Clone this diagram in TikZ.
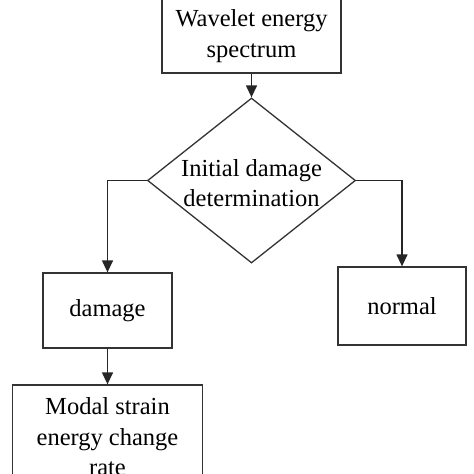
\documentclass[tikz,border=0pt]{standalone}
\usepackage{fontspec}
\setmainfont{Liberation Serif}
\usetikzlibrary{shapes.geometric,arrows.meta}
\begin{document}
\begin{tikzpicture}[x=1pt,y=-1pt,
  box/.style={draw=black!80, line width=1.3pt, rectangle, inner sep=0pt},
  txt/.style={align=center, font=\fontsize{24.5}{30.5}\selectfont, inner sep=0pt},
  conn/.style={draw=black!85, line width=1.3pt, -{Triangle[length=12pt,width=11pt]}}]
\useasboundingbox (0,0) rectangle (474,474);
\clip (0,0) rectangle (474,474);
\fill[white] (0,0) rectangle (474,474);
\node[box, minimum width=179pt, minimum height=74pt] (top) at (251.5,36) {};
\node[txt] (toptxt) at (top.center) {Wavelet energy\\spectrum};
\node[draw=black!80, line width=1.3pt, diamond, minimum width=208pt, minimum height=165pt, inner sep=0pt] (dec) at (251.5,180.5) {};
\node[txt] (dectxt) at (251.5,183) {Initial damage\\determination};
\node[box, minimum width=129pt, minimum height=75pt] (dmg) at (107.5,310.5) {};
\node[txt] (dmgtxt) at (dmg.center) {damage};
\node[box, minimum width=128pt, minimum height=78pt] (nrm) at (402,306) {};
\node[txt] (nrmtxt) at (nrm.center) {normal};
\node[box, minimum width=190pt, minimum height=104pt] (mod) at (107.5,437) {};
\node[txt] (modtxt) at (107.5,437) {Modal strain\\energy change\\rate};
\draw[conn] (top.south) -- (dec.north);
\draw[conn] (dec.west) -| (dmg.north);
\draw[conn] (dec.east) -| (nrm.north);
\draw[conn] (dmg.south) -- (mod.north);
\end{tikzpicture}
\end{document}
